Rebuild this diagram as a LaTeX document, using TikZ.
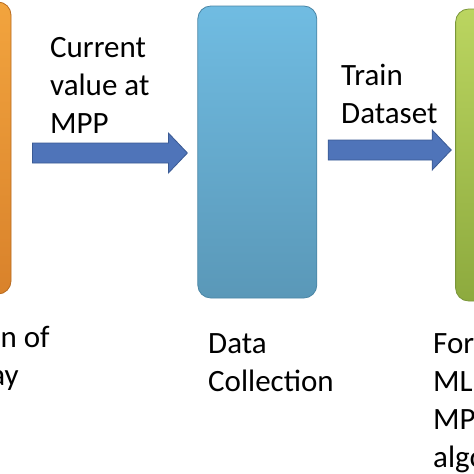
\documentclass[tikz,border=0pt]{standalone}
\usepackage{fontspec}
\setmainfont{Carlito}
\usetikzlibrary{positioning, calc}
\definecolor{pvTop}{HTML}{F2A43E}
\definecolor{pvBottom}{HTML}{D9822B}
\definecolor{pvEdge}{HTML}{B86A1E}
\definecolor{dataTop}{HTML}{70BCE2}
\definecolor{dataBottom}{HTML}{5A98B8}
\definecolor{dataEdge}{HTML}{4A86A6}
\definecolor{mlTop}{HTML}{BBD560}
\definecolor{mlBottom}{HTML}{8DAA3E}
\definecolor{mlEdge}{HTML}{7A963A}
\definecolor{arrowFill}{HTML}{4F74B9}
\definecolor{arrowEdge}{HTML}{3A5A94}
\tikzset{%
  % Specifications for style of nodes:
     stage/.style = {rectangle, rounded corners=13pt, line width=0.8pt,
                     minimum width=119pt, minimum height=292pt, inner sep=0pt},
     pvStage/.style = {stage, draw=pvEdge, top color=pvTop, bottom color=pvBottom},
     dataStage/.style = {stage, draw=dataEdge, top color=dataTop, bottom color=dataBottom},
     mlStage/.style = {stage, draw=mlEdge, top color=mlTop, bottom color=mlBottom},
     caption/.style = {inner sep=0pt, align=left, anchor=north west,
                       font=\fontsize{31pt}{38pt}\selectfont},
     blockArrow/.style = {draw=arrowEdge, fill=arrowFill, line width=0.8pt,
       to path={let \p1=(\tikztostart), \p2=(\tikztotarget) in
         (\x1,\y1+10pt) -- (\x2-19pt,\y1+10pt) -- (\x2-19pt,\y1+20pt) -- (\x2,\y1)
         -- (\x2-19pt,\y1-20pt) -- (\x2-19pt,\y1-10pt) -- (\x1,\y1-10pt) -- cycle}},
}
\begin{document}
\begin{tikzpicture}[x=1pt, y=-1pt]
  \useasboundingbox (0,0) rectangle (474,474);
  \clip (0,0) rectangle (474,474);
  \fill[white] (0,0) rectangle (474,474);

  % Specification of nodes (position, etc.)
  \node (pvBox)      [pvStage] at (-48.5,148) {};
  \node (dataBox)    [dataStage, right=186pt of pvBox, yshift=-4pt] {};
  \node (mlBox)      [mlStage, right=138pt of dataBox, yshift=-3pt] {};

  \node (pvText)     [caption, align=center, anchor=north east] at (50,326)
                     {Simulation of\\ PV array};
  \node (dataText)   [caption] at (208,333) {Data\\ Collection};
  \node (mlText)     [caption] at (433,332) {Formulation of\\ ML based\\ MPPT\\ algorithm};

  \node (mppText)    [caption] at (50,37) {Current\\ value at\\ MPP};
  \node (trainText)  [caption] at (341,64) {Train\\ Dataset};

  % Specification of arrows between nodes specified above
  \draw[blockArrow] ([xshift=21pt, yshift=-5pt]pvBox.east) to ([xshift=-10pt, yshift=-5pt]dataBox.west);
  \draw[blockArrow] ([xshift=11pt, yshift=2pt]dataBox.east) to ([xshift=-4pt, yshift=2pt]mlBox.west);
\end{tikzpicture}
\end{document}
